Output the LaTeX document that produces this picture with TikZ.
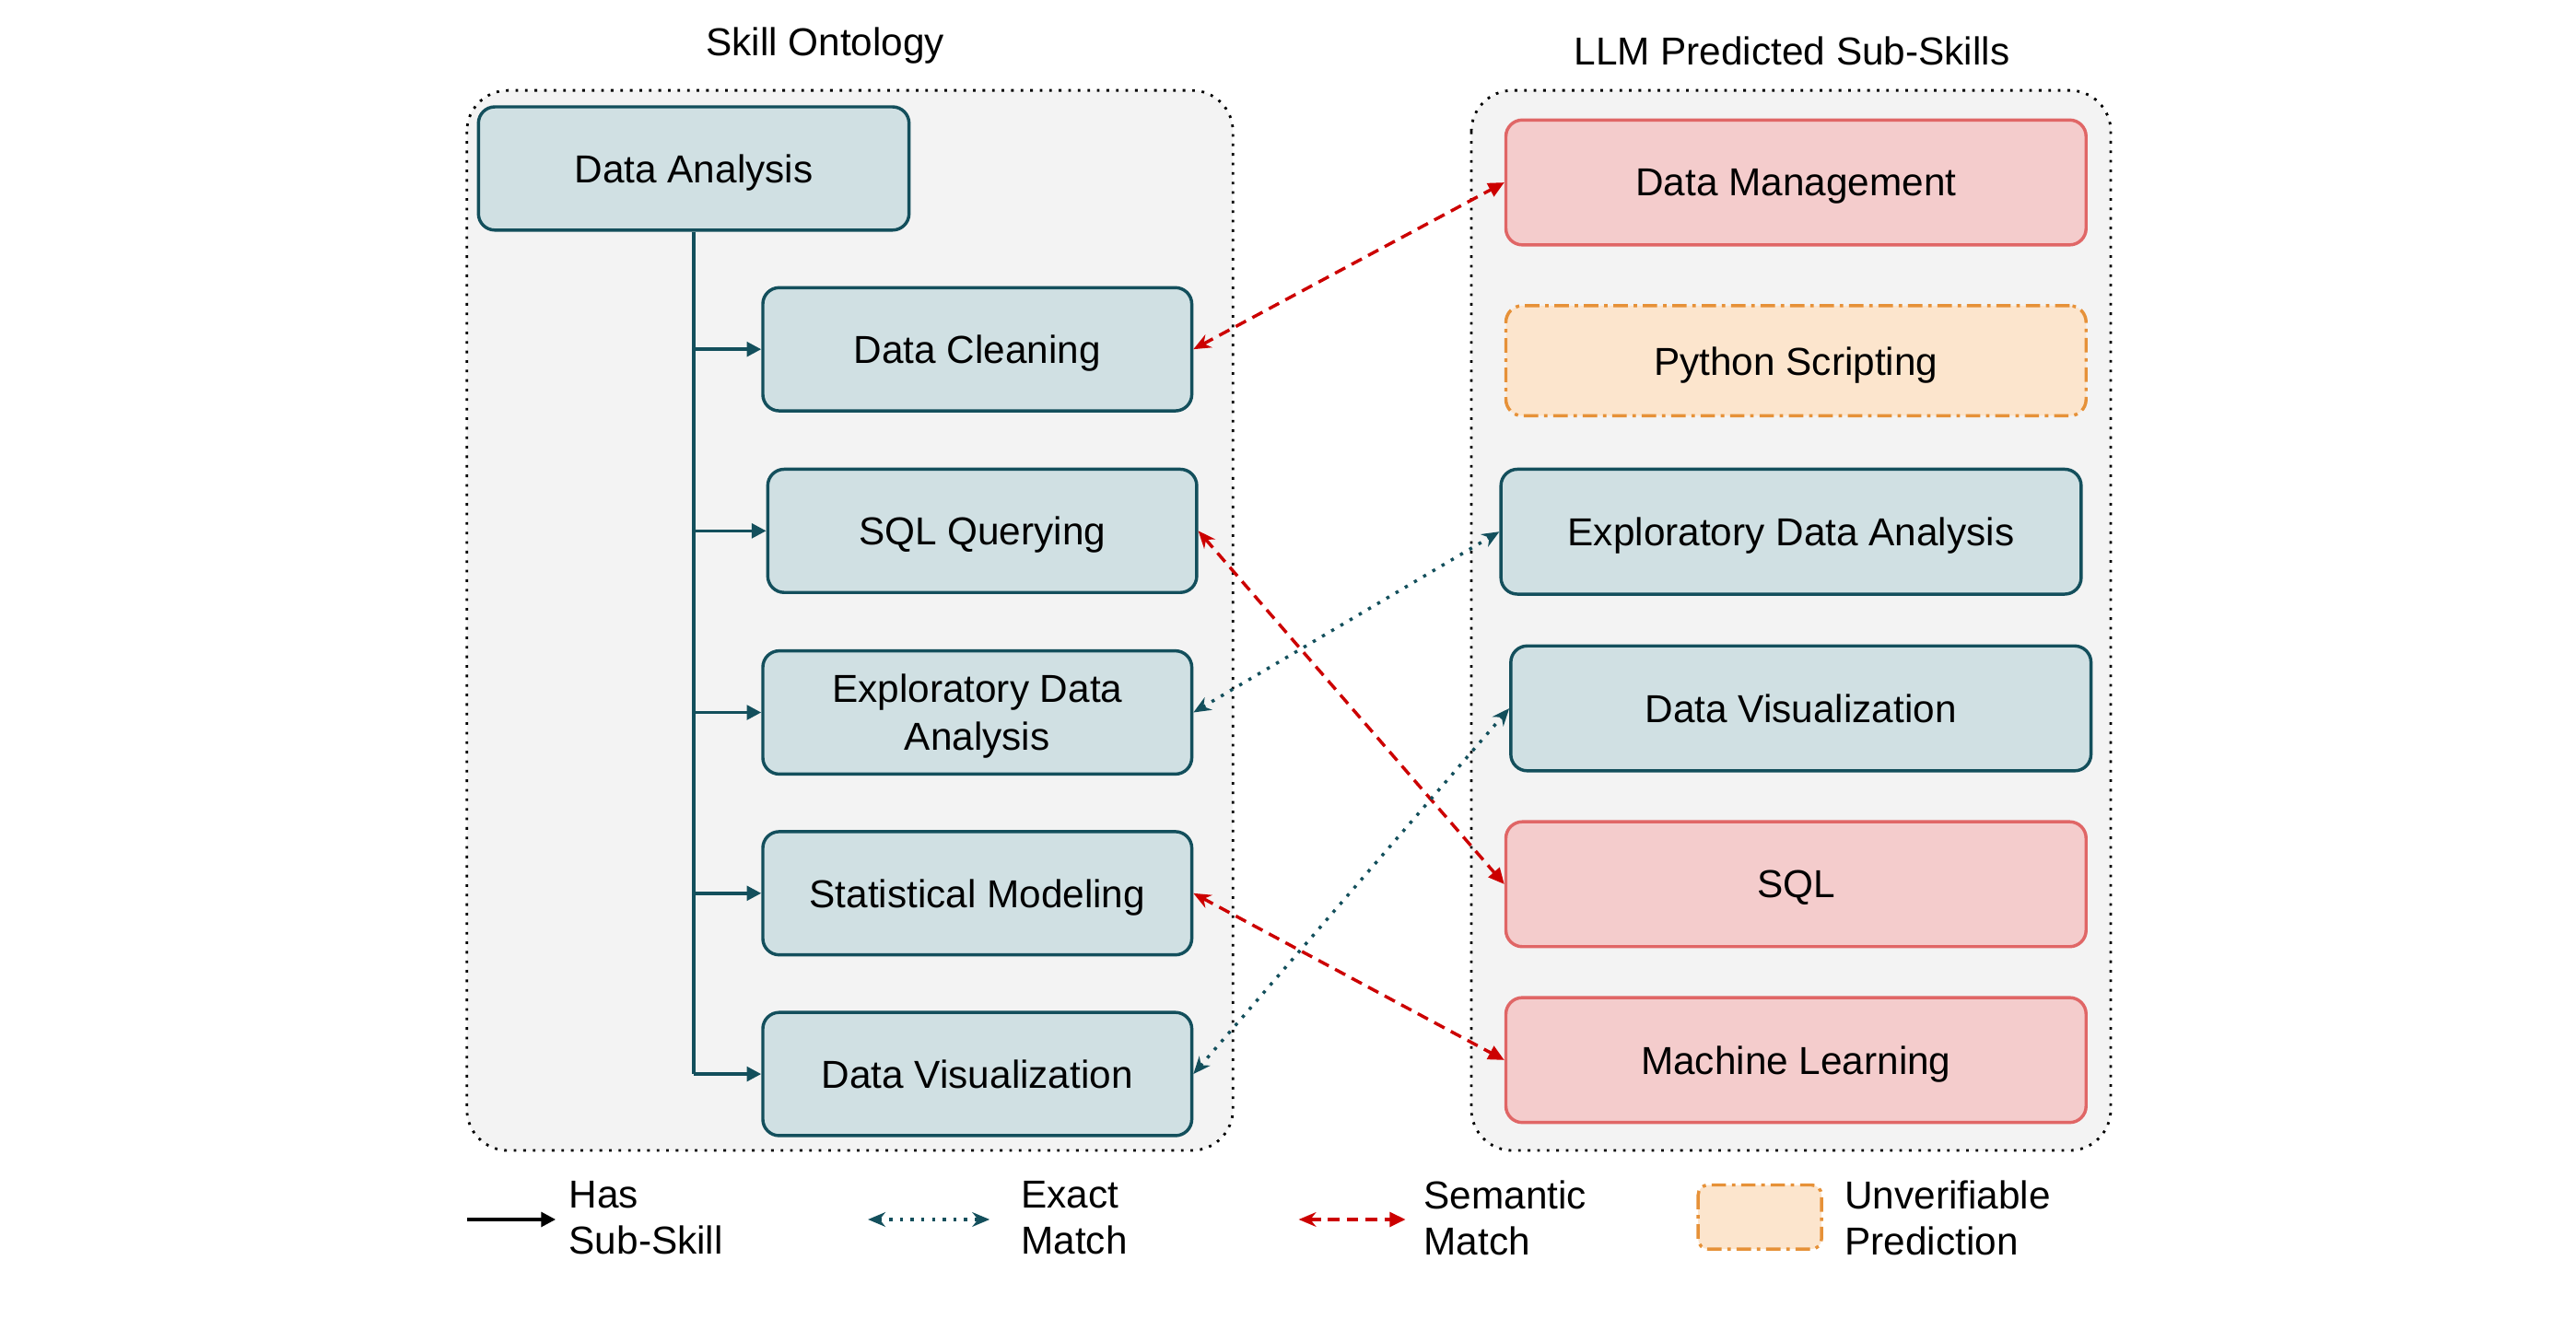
\documentclass[tikz,border=0pt]{standalone}
\usepackage{fontspec}
\setmainfont{Liberation Sans}
\usetikzlibrary{arrows.meta}
\definecolor{tealfill}{HTML}{D0E0E3}
\definecolor{tealline}{HTML}{134F5C}
\definecolor{redfill}{HTML}{F4CCCC}
\definecolor{redline}{HTML}{E06666}
\definecolor{orfill}{HTML}{FCE5CD}
\definecolor{orline}{HTML}{E69138}
\definecolor{contfill}{HTML}{F3F3F3}
\definecolor{semred}{HTML}{CC0000}
\tikzset{
  box/.style={rounded corners=0.2cm, line width=1.1pt, align=center, inner sep=2pt, text depth=0pt},
  tealbox/.style={box, draw=tealline, fill=tealfill},
  redbox/.style={box, draw=redline, fill=redfill},
  orbox/.style={box, draw=orline, fill=orfill, dash pattern=on 5pt off 2pt on 1.2pt off 2pt},
  lbox/.style={minimum width=5.22cm, minimum height=1.5cm},
  rbox/.style={minimum width=7.06cm, minimum height=1.52cm},
  container/.style={draw=black, fill=contfill, line width=0.9pt, dash pattern=on 0.9pt off 2.4pt, rounded corners=0.5cm},
  hasarrow/.style={draw=tealline, line width=1.1pt, -{Triangle[length=5pt,width=5pt]}},
  exact/.style={draw=tealline, line width=1.1pt, dash pattern=on 1.1pt off 2.6pt, {Stealth[length=6pt,width=5pt]}-{Stealth[length=6pt,width=5pt]}},
  semantic/.style={draw=semred, line width=1.1pt, dash pattern=on 4pt off 2.5pt, {Stealth[length=6pt,width=5pt]}-{Triangle[length=5.5pt,width=5pt]}},
  title/.style={font=\fontsize{13.5}{16}\selectfont},
  legtext/.style={anchor=west, align=left, font=\fontsize{13.5}{16}\selectfont}
}
\begin{document}
\begin{tikzpicture}[x=0.02cm, y=-0.02cm, font=\fontsize{13.5}{16.5}\selectfont]
\useasboundingbox (0,0) rectangle (1567,816);
% titles
\node[title] (t1) at (502,27.5) {Skill Ontology};
\node[title] (t2) at (1090,31) {LLM Predicted Sub-Skills};
% containers
\draw[container] (284,55) rectangle (750,700);
\draw[container] (895,55) rectangle (1284,700);
% left nodes
\node[tealbox, minimum width=5.24cm, minimum height=1.5cm] (da) at (422,102.5) {Data Analysis};
\node[tealbox, lbox] (dc) at (594.5,212.5) {Data Cleaning};
\node[tealbox, lbox] (sq) at (597.5,323) {SQL Querying};
\node[tealbox, lbox] (eda) at (594.5,433.5) {Exploratory Data\\Analysis};
\node[tealbox, lbox] (sm) at (594.5,543.5) {Statistical Modeling};
\node[tealbox, lbox] (dv) at (594.5,653.5) {Data Visualization};
% right nodes
\node[redbox, rbox] (dm) at (1092.5,111) {Data Management};
\node[orbox, minimum width=7.06cm, minimum height=1.34cm] (ps) at (1092.5,219.5) {Python Scripting};
\node[tealbox, rbox] (edar) at (1089.5,323.5) {Exploratory Data Analysis};
\node[tealbox, rbox] (dvr) at (1095.5,431) {Data Visualization};
\node[redbox, rbox] (sqlr) at (1092.5,538) {SQL};
\node[redbox, rbox] (ml) at (1092.5,645) {Machine Learning};
% tree
\draw[draw=tealline, line width=1.1pt] (da.south) -- (da.south |- dv.west);
\foreach \n in {dc,sq,eda,sm,dv}{
  \draw[hasarrow] (da.south |- \n.west) -- (\n.west);
}
% matches
\draw[semantic] (dc.east) -- (dm.west);
\draw[semantic] (sq.east) -- (sqlr.west);
\draw[semantic] (sm.east) -- (ml.west);
\draw[exact] (eda.east) -- (edar.west);
\draw[exact] (dv.east) -- (dvr.west);
% legend
\coordinate (l1a) at (284,742);
\coordinate (l1b) at (338,742);
\draw[line width=1.1pt, -{Triangle[length=5pt,width=5pt]}] (l1a) -- (l1b);
\node[legtext] (lt1) at (340,741) {Has\\Sub-Skill};
\coordinate (l2a) at (528,742);
\coordinate (l2b) at (602,742);
\draw[exact] (l2a) -- (l2b);
\node[legtext] (lt2) at (615,741) {Exact\\Match};
\coordinate (l3a) at (790,742);
\coordinate (l3b) at (855,742);
\draw[semantic] (l3a) -- (l3b);
\node[legtext] (lt3) at (860,741) {Semantic\\Match};
\draw[draw=orline, fill=orfill, line width=1.1pt, dash pattern=on 5pt off 2pt on 1.2pt off 2pt, rounded corners=0.12cm] (1033,721) rectangle (1108,760);
\node[legtext] (lt4) at (1116,741) {Unverifiable\\Prediction};
\end{tikzpicture}
\end{document}
